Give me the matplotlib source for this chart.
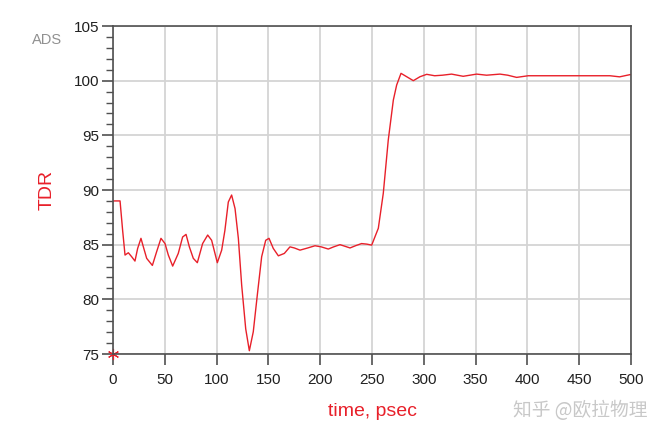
import numpy as np
import matplotlib
matplotlib.use("Agg")
import matplotlib.pyplot as plt

# ================= 数据 =================
time_ps = [0, 6.8, 9.3, 11.6, 14.8, 18, 21.2, 23.8, 27, 29.3, 32.5, 38, 42.1, 46.3,
           50.2, 53.4, 57.6, 63, 67.2, 70.5, 73.7, 77.5, 81.4, 86.5, 91.4, 95.2,
           100.7, 104.9, 108, 111.3, 114.5, 117.8, 121, 124.2, 128.1, 131.6, 135.4,
           139.3, 143.5, 147.4, 150.6, 154.7, 159.6, 165.4, 170.8, 175, 180.5, 188,
           195, 201, 207.8, 213, 219.1, 224, 228.8, 234, 239.9, 245, 249.7, 256.1,
           260.9, 265.7, 270.6, 273.8, 278, 283.5, 289.9, 296.3, 302.8, 310.5, 318,
           326.8, 338, 351, 360.6, 373.5, 381, 389.6, 400.8, 440, 479.7, 489, 499, 500]
tdr = [89.0, 89.0, 86.3, 84.05, 84.26, 83.9, 83.5, 84.66, 85.58, 84.8, 83.75, 83.1, 84.35, 85.58,
       85.1, 84.05, 83.04, 84.2, 85.7, 85.94, 84.8, 83.75, 83.35, 85.1, 85.88, 85.4,
       83.35, 84.5, 86.3, 88.9, 89.54, 88.3, 85.58, 81.3, 77.3, 75.3, 77.03,
       80.4, 83.9, 85.4, 85.58, 84.66, 83.98, 84.2, 84.8, 84.7, 84.5, 84.7,
       84.9, 84.8, 84.6, 84.8, 85.0, 84.85, 84.7, 84.9, 85.1, 85.05, 84.96, 86.5,
       89.7, 94.57, 98.23, 99.6, 100.67, 100.36, 100.0, 100.36, 100.58, 100.45, 100.5,
       100.6, 100.4, 100.6, 100.5, 100.6, 100.5, 100.3, 100.45, 100.45, 100.45, 100.35, 100.55, 100.55]

x_ticks = [0, 50, 100, 150, 200, 250, 300, 350, 400, 450, 500]
y_ticks = [75, 80, 85, 90, 95, 100, 105]

RED = '#e8202a'
AXIS = '#505050'

# ================= 绘图 =================
plt.rcParams['font.family'] = ['Liberation Sans', 'DejaVu Sans']

fig = plt.figure(figsize=(6.69, 4.41), dpi=100)
ax = fig.add_axes([113 / 669, 1 - 354 / 441, (631 - 113) / 669, (354 - 26) / 441])

ax.plot(time_ps, tdr, color=RED, linewidth=1.0, solid_joinstyle='round')
# ADS 的起点标记
ax.plot([0], [75], marker=(6, 2, 0), color=RED, markersize=8, markeredgewidth=0.8, clip_on=False)

ax.set_xlim(0, 500)
ax.set_ylim(75, 105)
ax.set_xticks(x_ticks)
ax.set_yticks(y_ticks)
ax.set_yticks(np.arange(75, 106, 1), minor=True)
ax.grid(True, which='major', color='#d4d4d4', linewidth=1.3)
ax.set_axisbelow(True)

for s in ax.spines.values():
    s.set_color(AXIS)
    s.set_linewidth(1.2)

ax.tick_params(axis='both', which='major', direction='out', length=8, width=1.2,
               color=AXIS, labelsize=11, labelcolor='#202020')
ax.tick_params(axis='y', which='minor', direction='out', length=5, width=1.0, color=AXIS)
ax.tick_params(axis='y', pad=2)
ax.tick_params(axis='x', pad=6)

ax.set_xlabel('time, psec', color=RED, fontsize=14, labelpad=11)
ax.set_ylabel('TDR', color=RED, fontsize=14, labelpad=13)

fig.text(47 / 669, 1 - 40 / 441, 'ADS', color='#909090', fontsize=10.5,
         ha='center', va='center')
fig.text(580 / 669, 1 - 410 / 441, '知乎 @欧拉物理', color='#c8c8c8', fontsize=13.5,
         ha='center', va='center', family=['Noto Sans CJK SC', 'DejaVu Sans'])

fig.savefig('out.png', dpi=100)
